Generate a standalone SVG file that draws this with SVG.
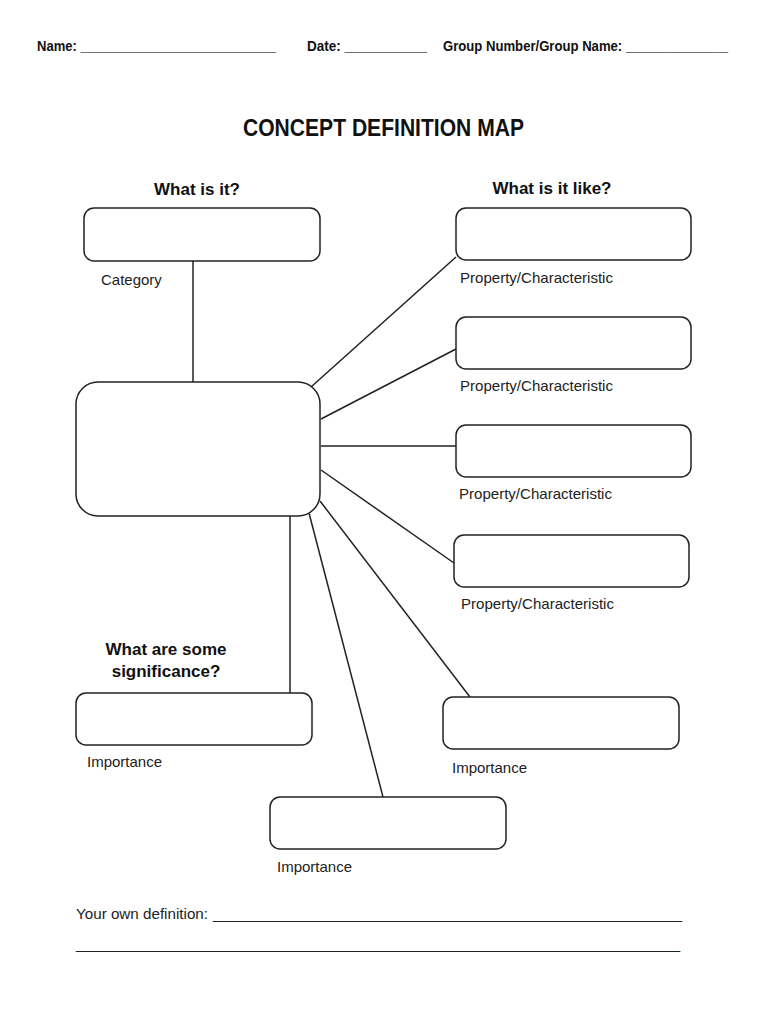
<svg xmlns="http://www.w3.org/2000/svg" width="768" height="1024" viewBox="0 0 768 1024">
<style>
.box{fill:#fff;stroke:#222;stroke-width:1.5}
.con line{stroke:#222;stroke-width:1.5}
.hdr{font-family:"Liberation Sans",Arial,sans-serif;font-weight:bold;font-size:14px;fill:#111}
.ttl{font-family:"Liberation Sans",Arial,sans-serif;font-weight:bold;font-size:23px;fill:#111}
.q{font-family:"Liberation Sans",Arial,sans-serif;font-weight:bold;font-size:17px;fill:#111}
.lbl{font-family:"Liberation Sans",Arial,sans-serif;font-size:15px;fill:#222}
</style>
<rect width="768" height="1024" fill="#fff"/>
<g id="header">
<text class="hdr" x="37" y="51" textLength="239" lengthAdjust="spacingAndGlyphs">Name: ___________________________</text>
<text class="hdr" x="307" y="51" textLength="120" lengthAdjust="spacingAndGlyphs">Date: ___________</text>
<text class="hdr" x="443" y="51" textLength="285" lengthAdjust="spacingAndGlyphs">Group Number/Group Name: ______________</text>
<text class="ttl" x="243" y="136" textLength="281" lengthAdjust="spacingAndGlyphs">CONCEPT DEFINITION MAP</text>
</g>
<g class="con" id="connectors">
<line x1="193" y1="261" x2="193" y2="382"/>
<line x1="311" y1="387" x2="456" y2="257"/>
<line x1="321" y1="419" x2="456" y2="349"/>
<line x1="321" y1="446" x2="456" y2="446"/>
<line x1="321" y1="470" x2="454" y2="563"/>
<line x1="290" y1="516" x2="290" y2="693"/>
<line x1="320" y1="501" x2="470" y2="697"/>
<line x1="309" y1="513" x2="383" y2="797"/>
</g>
<g id="category">
<text class="q" x="197" y="195" text-anchor="middle">What is it?</text>
<rect class="box" x="84" y="208" width="236" height="53" rx="10"/>
<text class="lbl" x="101" y="285">Category</text>
</g>
<g id="concept">
<rect class="box" x="76" y="382" width="244" height="134" rx="22"/>
</g>
<g id="property1">
<text class="q" x="552" y="194" text-anchor="middle">What is it like?</text>
<rect class="box" x="456" y="208" width="235" height="52" rx="10"/>
<text class="lbl" x="460" y="283" textLength="153" lengthAdjust="spacingAndGlyphs">Property/Characteristic</text>
</g>
<g id="property2">
<rect class="box" x="456" y="317" width="235" height="52" rx="10"/>
<text class="lbl" x="460" y="391" textLength="153" lengthAdjust="spacingAndGlyphs">Property/Characteristic</text>
</g>
<g id="property3">
<rect class="box" x="456" y="425" width="235" height="52" rx="10"/>
<text class="lbl" x="459" y="499" textLength="153" lengthAdjust="spacingAndGlyphs">Property/Characteristic</text>
</g>
<g id="property4">
<rect class="box" x="454" y="535" width="235" height="52" rx="10"/>
<text class="lbl" x="461" y="609" textLength="153" lengthAdjust="spacingAndGlyphs">Property/Characteristic</text>
</g>
<g id="importance1">
<text class="q" x="166" y="655" text-anchor="middle">What are some</text>
<text class="q" x="166" y="677" text-anchor="middle">significance?</text>
<rect class="box" x="76" y="693" width="236" height="52" rx="10"/>
<text class="lbl" x="87" y="767">Importance</text>
</g>
<g id="importance2">
<rect class="box" x="443" y="697" width="236" height="52" rx="10"/>
<text class="lbl" x="452" y="773">Importance</text>
</g>
<g id="importance3">
<rect class="box" x="270" y="797" width="236" height="52" rx="10"/>
<text class="lbl" x="277" y="872">Importance</text>
</g>
<g id="definition">
<text class="lbl" x="76" y="919"><tspan textLength="132" lengthAdjust="spacingAndGlyphs">Your own definition:</tspan><tspan x="213" textLength="469" lengthAdjust="spacingAndGlyphs">_______________________________________________</tspan></text>
<text class="lbl" x="76" y="949" textLength="604" lengthAdjust="spacingAndGlyphs">_______________________________________________________________</text>
</g>
</svg>
